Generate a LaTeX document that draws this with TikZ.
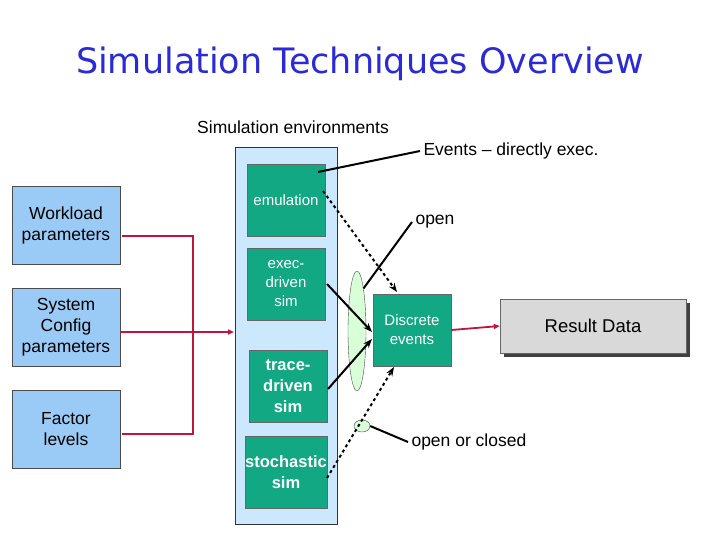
\documentclass[tikz,border=0pt]{standalone}
\usepackage{fontspec}
\setmainfont{Liberation Sans}
\newfontfamily\ttl{DejaVu Sans}
\usetikzlibrary{shapes.geometric,arrows.meta}
\definecolor{pb}{HTML}{9ACBF7}
\definecolor{env}{HTML}{CCE8FF}
\definecolor{gr}{HTML}{12A883}
\definecolor{rd}{HTML}{C0143C}
\definecolor{tb}{HTML}{2B2BD6}
\begin{document}
\begin{tikzpicture}[x=1pt,y=-1pt,
 par/.style={draw=black!70,fill=pb,minimum width=108pt,minimum height=78pt,align=center,font=\fontsize{17.5}{21}\selectfont},
 gbox/.style={draw=black!60,fill=gr,text=white,minimum width=78pt,minimum height=72pt,inner sep=0pt,align=center,font=\fontsize{15}{19}\selectfont},
 rl/.style={draw=rd,line width=1.8pt},
 bl/.style={draw=black,line width=2pt},
 lab/.style={font=\fontsize{17.5}{21}\selectfont}]
\useasboundingbox (0,0) rectangle (720,540);
\node[font=\ttl\fontsize{35}{40}\selectfont,text=tb] (title) at (360,64) {Simulation Techniques Overview};
\node[lab] (se) at (293,127) {Simulation environments};
\node[par] (wl) at (66,225) {Workload\\parameters};
\node[par] (sc) at (66,327) {System\\Config\\parameters};
\node[par] (fl) at (66,429) {Factor\\levels};
\node[draw=black!80,fill=env,minimum width=102pt,minimum height=377pt] (envr) at (286,335.5) {};
\node[gbox] (em) at (286,200) {emulation};
\node[gbox] (ex) at (286,284) {exec-\\driven\\sim};
\node[gbox,font=\bfseries\fontsize{16.5}{21}\selectfont] (tr) at (288,386) {trace-\\driven\\sim};
\node[gbox,font=\bfseries\fontsize{16.5}{21}\selectfont] (st) at (286,472) {stochastic\\sim};
\node[gbox] (de) at (412,330) {Discrete\\events};
\fill[black!75] (504,303) rectangle (690,357);
\node[draw=black!60,fill=black!15,minimum width=186pt,minimum height=54pt,font=\fontsize{18.5}{21}\selectfont] (rs) at (593,326) {Result Data};
\node[draw=black!70,fill=green!15,ellipse,minimum width=18pt,minimum height=120pt] (el) at (357,331) {};
\node[draw=black!70,fill=green!15,ellipse,minimum width=16pt,minimum height=12pt,inner sep=0pt] (se2) at (362,426) {};
\node[lab,anchor=west] (ev) at (420,151) {Events -- directly exec.};
\node[lab,anchor=west] (op) at (412,222) {open};
\node[lab,anchor=west] (oc) at (408,442) {open or closed};
\coordinate (j1) at (193,236); \coordinate (j3) at (193,434);
\coordinate (ea) at (234,332);
\draw[rl] (122,236) -- (j1) -- (j3) -- (122,434);
\draw[rl,-{Triangle[length=6pt,width=5pt]}] (sc.east |- ea) -- (ea);
\draw[rl,-{Triangle[length=6pt,width=5pt]}] (de.east) -- (rs.west);
\draw[bl] (ev.west) -- (318,172);
\draw[bl] (op.west) -- (el.north east);
\draw[bl] (oc.west) -- (se2.east);
\draw[bl,dashed,-{Stealth[length=9pt]}] (323,191) -- (397,292);
\draw[bl,-{Stealth[length=9pt]}] (327,284) -- (372,332);
\draw[bl,-{Stealth[length=9pt]}] (328,389) -- (372,339);
\draw[bl,dashed,-{Stealth[length=9pt]}] (327,478) -- (394,367);
\end{tikzpicture}
\end{document}
